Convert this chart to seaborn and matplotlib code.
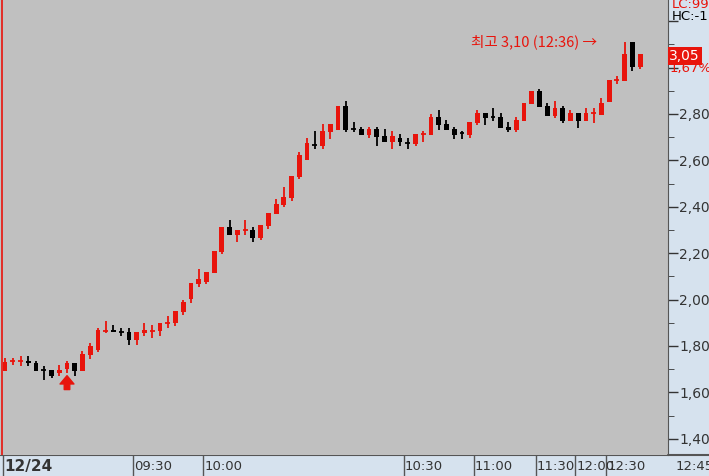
import seaborn as sns
import matplotlib.pyplot as plt
import numpy as np
from matplotlib.ticker import MultipleLocator, FuncFormatter

# OHLC per candle
opens = [1.69, 1.735, 1.735, 1.735, 1.727, 1.697, 1.697, 1.684, 1.701, 1.727,
         1.692, 1.761, 1.783, 1.865, 1.869, 1.860, 1.860, 1.826, 1.856, 1.865,
         1.865, 1.899, 1.899, 1.947, 2.002, 2.067, 2.076, 2.115, 2.205, 2.313,
         2.278, 2.300, 2.300, 2.265, 2.317, 2.369, 2.408, 2.438, 2.528, 2.602,
         2.667, 2.662, 2.722, 2.731, 2.834, 2.735, 2.735, 2.709, 2.735, 2.705,
         2.679, 2.697, 2.675, 2.671, 2.714, 2.709, 2.787, 2.757, 2.735, 2.718,
         2.709, 2.761, 2.804, 2.787, 2.787, 2.744, 2.731, 2.770, 2.843, 2.899,
         2.834, 2.791, 2.826, 2.770, 2.804, 2.770, 2.804, 2.796, 2.852, 2.946,
         2.942, 3.110, 3.003]
highs = [1.75, 1.75, 1.757, 1.757, 1.735, 1.714, 1.697, 1.718, 1.735, 1.727,
         1.779, 1.813, 1.878, 1.908, 1.890, 1.878, 1.878, 1.860, 1.899, 1.890,
         1.899, 1.929, 1.951, 1.998, 2.072, 2.132, 2.119, 2.209, 2.313, 2.343,
         2.300, 2.343, 2.313, 2.322, 2.373, 2.433, 2.485, 2.533, 2.636, 2.697,
         2.727, 2.757, 2.757, 2.834, 2.856, 2.765, 2.744, 2.744, 2.744, 2.735,
         2.727, 2.714, 2.697, 2.714, 2.727, 2.800, 2.817, 2.774, 2.744, 2.727,
         2.765, 2.817, 2.804, 2.826, 2.804, 2.765, 2.787, 2.847, 2.899, 2.908,
         2.847, 2.856, 2.834, 2.817, 2.804, 2.826, 2.826, 2.869, 2.946, 2.963,
         3.110, 3.110, 3.059]
lows = [1.69, 1.72, 1.714, 1.714, 1.692, 1.653, 1.662, 1.671, 1.684, 1.671,
        1.692, 1.744, 1.774, 1.856, 1.860, 1.843, 1.804, 1.804, 1.843, 1.834,
        1.843, 1.878, 1.886, 1.934, 1.985, 2.054, 2.067, 2.115, 2.196, 2.278,
        2.248, 2.278, 2.248, 2.257, 2.304, 2.369, 2.399, 2.425, 2.520, 2.602,
        2.649, 2.649, 2.692, 2.731, 2.722, 2.722, 2.709, 2.696, 2.662, 2.679,
        2.649, 2.662, 2.649, 2.662, 2.679, 2.709, 2.731, 2.731, 2.692, 2.692,
        2.696, 2.753, 2.753, 2.770, 2.740, 2.722, 2.722, 2.770, 2.843, 2.830,
        2.791, 2.783, 2.761, 2.770, 2.740, 2.770, 2.761, 2.796, 2.852, 2.929,
        2.942, 2.985, 2.994]
closes = [1.73, 1.735, 1.735, 1.727, 1.692, 1.697, 1.671, 1.697, 1.727, 1.692,
          1.766, 1.800, 1.869, 1.865, 1.860, 1.860, 1.826, 1.860, 1.869, 1.865,
          1.899, 1.899, 1.951, 1.990, 2.072, 2.089, 2.119, 2.209, 2.313, 2.278,
          2.300, 2.300, 2.265, 2.322, 2.373, 2.412, 2.443, 2.533, 2.623, 2.675,
          2.667, 2.727, 2.757, 2.834, 2.731, 2.735, 2.709, 2.735, 2.701, 2.679,
          2.705, 2.679, 2.675, 2.714, 2.714, 2.787, 2.753, 2.731, 2.709, 2.718,
          2.765, 2.804, 2.783, 2.787, 2.740, 2.731, 2.774, 2.847, 2.899, 2.830,
          2.791, 2.826, 2.770, 2.804, 2.770, 2.804, 2.804, 2.847, 2.946, 2.946,
          3.059, 3.003, 3.059]
# doji candles drawn in red (others are black)
doji_red = [1, 2, 13, 19, 21, 31, 54, 76, 79]

# time dividers on the bottom bar (position in candle index units)
tick_pos = [-0.3, 16.5, 25.6, 51.5, 60.5, 68.5, 73.6, 77.6]
tick_labels = ["12/24", "09:30", "10:00", "10:30", "11:00", "11:30", "12:00", "12:30"]

RED = "#e8140c"
PANEL = "#d6e2ee"

sns.set_style("white")
plt.rcParams["font.family"] = ["DejaVu Sans"]

fig = plt.figure(figsize=(7.09, 4.76), dpi=100, facecolor=PANEL)
W, H = 709, 476
ax = fig.add_axes([0, 21 / H, 668 / W, 455 / H])
ax.set_facecolor("#c0c0c0")

n = len(opens)
x = np.arange(n)
o, h, l, c = map(np.array, (opens, highs, lows, closes))
colors = []
for i in range(n):
    if c[i] > o[i] or (c[i] == o[i] and i in doji_red):
        colors.append(RED)
    else:
        colors.append("black")

ax.vlines(x, l, h, colors=colors, linewidth=1.3, zorder=2)
bw = 0.62
body_b = np.minimum(o, c)
body_h = np.abs(c - o)
ax.bar(x, body_h, bottom=body_b, width=bw, color=colors, linewidth=0, zorder=3)
doji = body_h == 0
ax.hlines(c[doji], x[doji] - bw / 2, x[doji] + bw / 2,
          colors=np.array(colors)[doji], linewidth=1.3, zorder=3)

ax.set_xlim(-0.65, 85.6)
ax.set_ylim(1.330, 3.291)
ax.axvline(-0.45, color=RED, linewidth=1.2)

# up arrow under the low
ax.annotate("", xy=(8, 1.672), xytext=(8, 1.612),
            arrowprops=dict(color=RED, width=4, headwidth=10, headlength=6))

# high annotation
ax.text(76.4, 3.112, "최고 3,10 (12:36) →", color=RED, fontsize=10.5, ha="right",
        va="center", family=["Noto Sans CJK KR", "DejaVu Sans"])

# right price axis (3,00 and 3,20 are covered by other labels in the original)
ax.yaxis.tick_right()
ax.yaxis.set_major_locator(MultipleLocator(0.2))
ax.yaxis.set_minor_locator(MultipleLocator(0.1))
ax.yaxis.set_major_formatter(FuncFormatter(
    lambda v, p: "" if v > 2.9 else f"{v:.2f}".replace(".", ",")))
ax.tick_params(axis="y", which="major", direction="out", length=7, width=1,
               color="#333333", labelcolor="#333333", labelsize=10, pad=1)
ax.tick_params(axis="y", which="minor", direction="out", length=4, color="#333333")
ax.tick_params(axis="x", bottom=False, labelbottom=False)
for s in ax.spines.values():
    s.set_visible(False)
ax.spines["right"].set_visible(True)
ax.spines["right"].set_color("#555555")

# current price box
ax.text(1.002, 3.05, "3,05", transform=ax.get_yaxis_transform(), color="white",
        fontsize=10, va="center", ha="left",
        bbox=dict(facecolor=RED, edgecolor="none", pad=1.2))
ax.text(1.003, 2.995, "1,67%", transform=ax.get_yaxis_transform(), color=RED,
        fontsize=9.5, va="center", ha="left")
fig.text(672 / W, 1 - 5 / H, "LC:99", color=RED, fontsize=9.5, va="center")
fig.text(672 / W, 1 - 16 / H, "HC:-1", color="black", fontsize=9.5, va="center")

# bottom time bar
bx = fig.add_axes([0, 0, 668 / W, 21 / H], sharex=ax)
bx.set_facecolor(PANEL)
bx.set_ylim(0, 1)
bx.axis("off")
bx.axhline(1, color="#555555", linewidth=1.5)
for p, t in zip(tick_pos, tick_labels):
    bx.axvline(p, color="#555555", linewidth=1)
    if t == "12/24":
        bx.text(p + 0.15, 0.45, t, fontsize=11, va="center", ha="left",
                color="#333333", fontweight="bold")
    else:
        bx.text(p + 0.15, 0.45, t, fontsize=9.5, va="center", ha="left",
                color="#333333")
fig.text(676 / W, 9 / H, "12:45", fontsize=9.5, va="center", color="#333333")
fig.add_artist(plt.Line2D([668 / W, 1], [21 / H, 21 / H], color="#555555", linewidth=1.5))

fig.savefig("out.png", dpi=100, facecolor=PANEL)
